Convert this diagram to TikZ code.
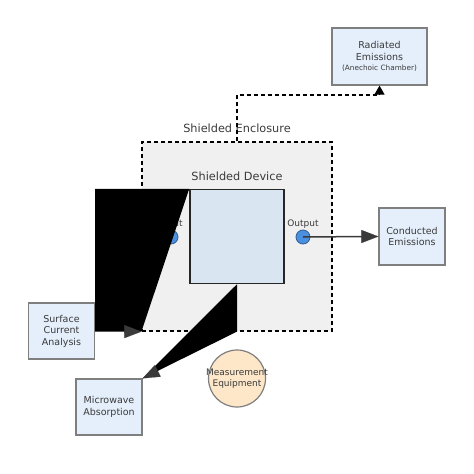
\documentclass[tikz,border=0pt]{standalone}
\usepackage{fontspec}
\setmainfont{DejaVu Sans}
\usetikzlibrary{arrows.meta,calc}
\definecolor{boxblue}{HTML}{E4EFFB}
\definecolor{devblue}{HTML}{D9E5F0}
\definecolor{enclgray}{HTML}{F0F0F0}
\definecolor{portblue}{HTML}{4A8FE0}
\definecolor{peach}{HTML}{FDE7C8}
\definecolor{textgray}{HTML}{3A3A3A}
\definecolor{edgegray}{HTML}{7F7F7F}

\begin{document}
\begin{tikzpicture}[x=1pt,y=-1pt,
    box/.style={draw=edgegray,fill=boxblue,line width=1.2pt,minimum width=66pt,minimum height=56pt,
      inner sep=0pt,align=center,text=textgray,font=\fontsize{9.5}{11.5}\selectfont},
    port/.style={circle,draw=portblue!65!black,fill=portblue,minimum size=14pt,inner sep=0pt,line width=0.8pt},
    lbl/.style={text=textgray,font=\fontsize{11.3}{13}\selectfont},
    portlbl/.style={text=textgray,font=\fontsize{9}{10}\selectfont},
    tip/.style={-{Triangle[length=17pt,width=13pt]},draw=textgray,fill=textgray}]
  \useasboundingbox (0,0) rectangle (474,474);
  \node[draw,dash pattern=on 4pt off 3pt,fill=enclgray,line width=1.2pt,minimum width=190pt,minimum height=189pt] (encl) at (237,236.5) {};
  \node[lbl] (encllbl) at (237,128) {Shielded Enclosure};
  \node[draw=black!85,fill=devblue,line width=1.5pt,minimum size=94pt] (dev) at (237,236.5) {};
  \node[lbl] (devlbl) at (237,176) {Shielded Device};
  \node[port] (in) at (171,237) {};
  \node[port] (out) at (303,237) {};
  \node[portlbl] (inlbl) at (171,224) {Input};
  \node[portlbl] (outlbl) at (303,224) {Output};
  \node[box,minimum width=95pt,minimum height=57pt] (rad) at (379.5,56.5)
    {Radiated\\Emissions\\[-1pt]{\fontsize{7.3}{9}\selectfont(Anechoic Chamber)}};
  \node[box,minimum height=57pt] (cond) at (412,236.5) {Conducted\\Emissions};
  \node[box] (surf) at (61.5,331) {Surface\\Current\\Analysis};
  \node[box] (micro) at (109,407) {Microwave\\Absorption};
  \node[circle,draw=edgegray,fill=peach,line width=1.2pt,minimum size=57pt,inner sep=0pt] (meas) at (237,378.5) {};
  \node[align=center,text=textgray,font=\fontsize{9}{11}\selectfont] (measlbl) at (meas.center) {Measurement\\Equipment};
  \coordinate (bend) at (237,95);
  \draw[dash pattern=on 4pt off 3pt,line width=1.2pt,-{Triangle[length=9pt,width=10pt]}] (encl.north) -- (bend) -| (rad.south);
  \draw[textgray,line width=1.5pt] (out.center) -- ([xshift=-10pt]cond.west);
  \draw[tip,line width=0.1pt] ([xshift=-18pt]cond.west) -- (cond.west);
  \fill (dev.north west) -- (dev.north west -| surf.east) -- (surf.east |- encl.south) -- (encl.south west) -- cycle;
  \draw[tip,line width=0.1pt] ([xshift=-17pt]encl.south west) -- (encl.south west);
  \fill (dev.south) -- (dev.south |- encl.south) -- (micro.north east) -- cycle;
  \draw[tip,line width=0.1pt] ($(micro.north east)!17pt!(dev.south |- encl.south)$) -- (micro.north east);
\end{tikzpicture}
\end{document}
